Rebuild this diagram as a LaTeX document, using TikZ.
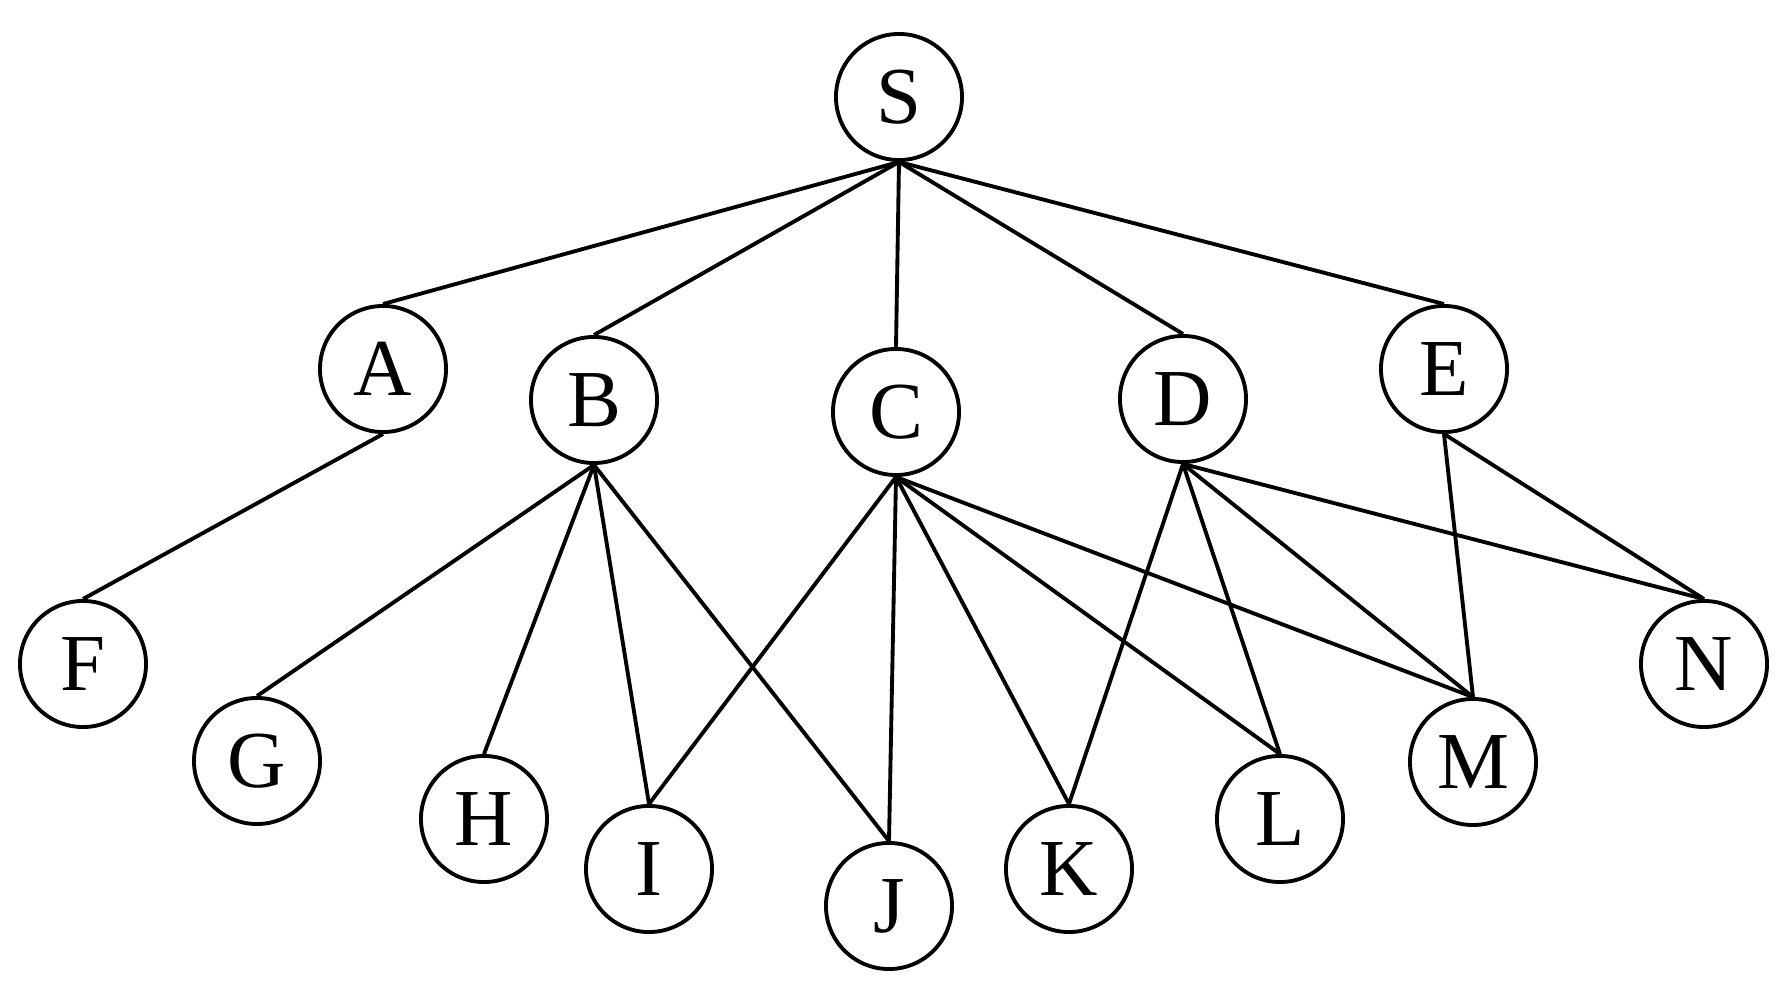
\documentclass[tikz,border=0pt]{standalone}
\usepackage{fontspec}
\setmainfont{Liberation Serif}
\begin{document}
\begin{tikzpicture}[x=0.01cm,y=-0.01cm,
  vtx/.style={draw,circle,line width=1.1pt,inner sep=0pt,minimum size=1.26cm,font=\fontsize{23}{26}\selectfont},
  edge/.style={line width=1.1pt}]
\useasboundingbox (0,0) rectangle (1790,988);
\node[vtx] (S) at (899,97) {S};
\node[vtx] (A) at (383,369) {A};
\node[vtx] (B) at (594,400) {B};
\node[vtx] (C) at (896,412) {C};
\node[vtx] (D) at (1183,399) {D};
\node[vtx] (E) at (1444,369) {E};
\node[vtx] (F) at (83,664) {F};
\node[vtx] (G) at (257,761) {G};
\node[vtx] (H) at (484,819) {H};
\node[vtx] (I) at (649,869) {I};
\node[vtx] (J) at (889,906) {J};
\node[vtx] (K) at (1069,869) {K};
\node[vtx] (L) at (1280,819) {L};
\node[vtx] (M) at (1473,762) {M};
\node[vtx] (N) at (1704,664) {N};
\foreach \p/\c in {S/A,S/B,S/C,S/D,S/E,A/F,B/G,B/H,B/I,B/J,C/I,C/J,C/K,C/L,C/M,D/K,D/L,D/M,D/N,E/M,E/N}
  \draw[edge] (\p.south) -- (\c.north);
\end{tikzpicture}
\end{document}
